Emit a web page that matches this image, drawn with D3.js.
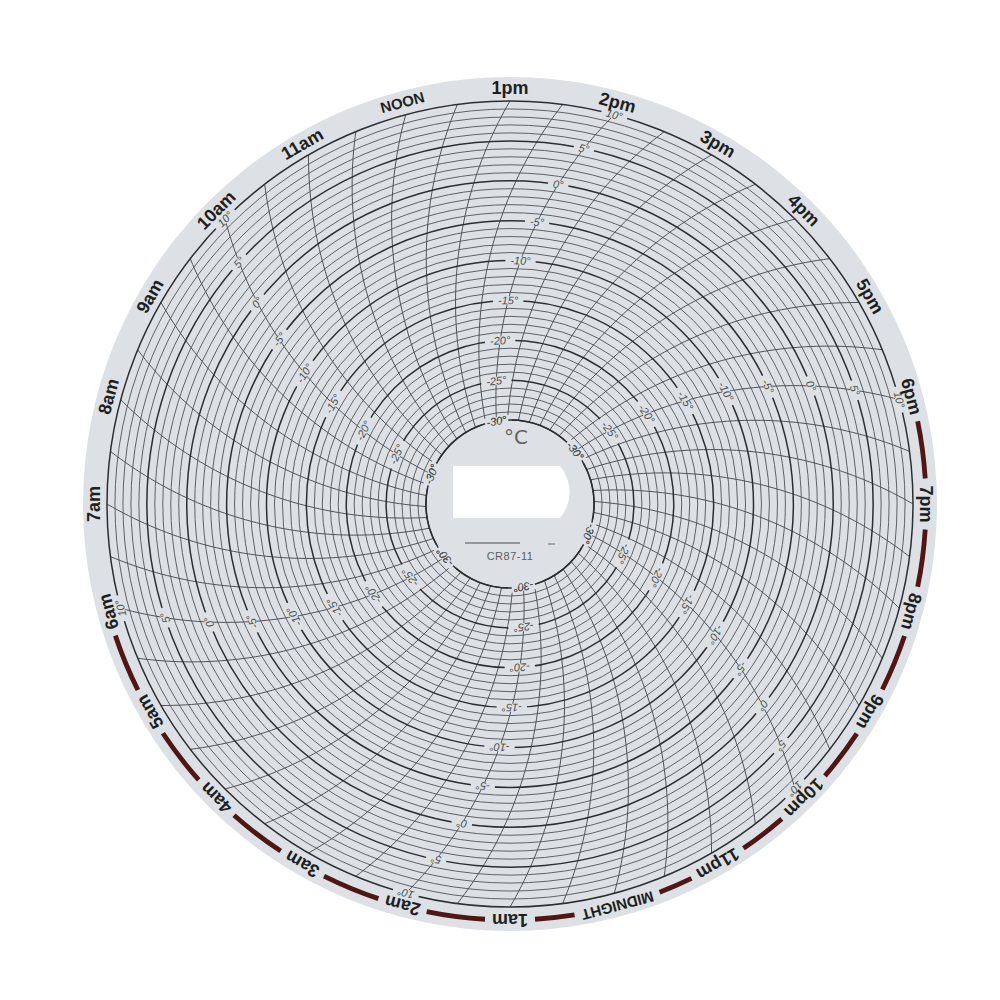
<!DOCTYPE html>
<html><head><meta charset="utf-8">
<script src="https://cdn.jsdelivr.net/npm/d3@7"></script>
<style>html,body{margin:0;background:#fff}</style>
</head><body><svg id="c" width="1000" height="1000"></svg>
<script>
// ---- data ----
const hourLabels = ["1pm","2pm","3pm","4pm","5pm","6pm","7pm","8pm","9pm","10pm","11pm","MIDNIGHT","1am","2am","3am","4am","5am","6am","7am","8am","9am","10am","11am","NOON"];
const nightLabels = ["6pm","7pm","8pm","9pm","10pm","11pm","MIDNIGHT","1am","2am","3am","4am","5am"]; // a dark mark follows each
const tempTicks = [-30,-25,-20,-15,-10,-5,0,5,10];
const tempMin = -30, tempMax = 10, tempMinorStep = 1;
const timeLineStepHours = 0.5;
const scaleLabelHours = ["2pm","6pm","10pm","2am","6am","10am"];
const unitLabel = "°C";
const chartCode = "CR87-11";

// ---- layout ----
const cx = 510, cy = 504;
const R_DISC = 427, R_OUT = 403, R_IN = 84, R_LABEL = 416, R_HUB = 83;
const ARM = 400; // pen arm length (arc radius) for time lines
const paper = "#dde1e5";

const svg = d3.select("#c");
const g = svg.append("g").attr("transform", `translate(${cx},${cy})`);

const rScale = d3.scaleLinear().domain([tempMin, tempMax]).range([R_IN, R_OUT]);
const aScale = d3.scaleLinear().domain([0, 24]).range([0, 2 * Math.PI]);
const deg = a => a * 180 / Math.PI;
const pt = (r, a) => [r * Math.sin(a), -r * Math.cos(a)];

const alpha = r => Math.acos(Math.min(1, r / (2 * ARM)));
const arcAngle = (aOut, r) => aOut - (alpha(r) - alpha(R_OUT));

// disc
g.append("circle").attr("r", R_DISC).attr("fill", paper);

// minor circles
const minorTemps = d3.range(tempMin, tempMax + 0.001, tempMinorStep).filter(t => !tempTicks.includes(t));
g.append("g").selectAll("circle").data(minorTemps).join("circle")
  .attr("r", d => rScale(d)).attr("fill", "none").attr("stroke", "#5f6367").attr("stroke-width", 1);

// time lines
const hours = d3.range(0, 24, timeLineStepHours);
const rSamples = d3.range(R_IN, R_OUT + 0.01, (R_OUT - R_IN) / 60);
const line = d3.lineRadial().radius(d => d[0]).angle(d => d[1]).curve(d3.curveLinear);
g.append("g").selectAll("path").data(hours).join("path")
  .attr("d", h => line(rSamples.map(r => [r, arcAngle(aScale(h), r)])))
  .attr("fill", "none").attr("stroke", "#4f5357").attr("stroke-width", 1);

// major circles
g.append("g").selectAll("circle").data(tempTicks).join("circle")
  .attr("r", d => rScale(d)).attr("fill", "none").attr("stroke", "#2c2f32").attr("stroke-width", 1.5);

// temperature labels along selected time lines
const fmt = t => (t < 0 ? "-" + Math.abs(t) : "" + t) + "°";
const labelStyle = sel => sel.attr("text-anchor", "middle").attr("dy", "0.35em")
  .attr("font-family", "Liberation Sans, Arial, sans-serif").attr("font-size", 11)
  .attr("font-style", "italic").attr("fill", "#4a4d50");
const tl = g.append("g");
scaleLabelHours.forEach(lbl => {
  const aOut = aScale(hourLabels.indexOf(lbl));
  tempTicks.forEach(t => {
    const r = rScale(t);
    const a = arcAngle(aOut, r);
    const [x, y] = pt(r, a);
    const gg = tl.append("g").attr("transform", `translate(${x},${y}) rotate(${deg(a)})`);
    const rect = gg.append("rect").attr("fill", paper);
    const txt = gg.append("text").text(fmt(t)).call(labelStyle);
    const w = txt.node().getComputedTextLength();
    rect.attr("x", -w / 2 - 5).attr("y", -4).attr("width", w + 10).attr("height", 8);
  });
});

// hub
g.append("circle").attr("r", R_HUB).attr("fill", paper);
const innerGaps = scaleLabelHours.map(lbl => arcAngle(aScale(hourLabels.indexOf(lbl)), R_IN));
const gapHalf = 0.14;
const sortedGaps = innerGaps.map(a => ((a % (2 * Math.PI)) + 2 * Math.PI) % (2 * Math.PI)).sort((a, b) => a - b);
const arcGen = d3.arc().innerRadius(R_IN - 0.75).outerRadius(R_IN + 0.75);
sortedGaps.forEach((a, i) => {
  const next = i < sortedGaps.length - 1 ? sortedGaps[i + 1] : sortedGaps[0] + 2 * Math.PI;
  g.append("path").attr("d", arcGen({startAngle: a + gapHalf, endAngle: next - gapHalf})).attr("fill", "#2c2f32");
});
scaleLabelHours.forEach(lbl => {
  const aOut = aScale(hourLabels.indexOf(lbl));
  const t = tempMin, r = rScale(t), a = arcAngle(aOut, r);
  const [x, y] = pt(r, a);
  g.append("text").attr("transform", `translate(${x},${y}) rotate(${deg(a)})`).text(fmt(t)).call(labelStyle);
});

// hub cut-out
const hy = -12;
g.append("path")
  .attr("d", `M-57,${hy - 26} L50,${hy - 26} A40,40 0 0 1 50,${hy + 26} L-57,${hy + 26} Z`)
  .attr("fill", "#ffffff");
g.append("text").attr("x", 6).attr("y", hy - 48).text(unitLabel)
  .attr("text-anchor", "middle").attr("font-family", "DejaVu Sans, sans-serif").attr("font-size", 20)
  .attr("fill", "#5f6367");
g.append("line").attr("x1", -45).attr("x2", 10).attr("y1", hy + 51).attr("y2", hy + 51)
  .attr("stroke", "#7c8084").attr("stroke-width", 1.6);
g.append("line").attr("x1", 38).attr("x2", 45).attr("y1", hy + 52).attr("y2", hy + 52)
  .attr("stroke", "#7c8084").attr("stroke-width", 1.2);
g.append("text").attr("x", 0).attr("y", hy + 68).text(chartCode)
  .attr("text-anchor", "middle").attr("font-family", "Liberation Sans, Arial, sans-serif").attr("font-size", 11)
  .attr("fill", "#5a5d60").attr("letter-spacing", 0.5);

// hour labels
const hl = g.append("g");
const halfWidths = {};
hourLabels.forEach((lbl, i) => {
  const a = aScale(i);
  const [x, y] = pt(R_LABEL, a);
  const big = !(lbl === "NOON" || lbl === "MIDNIGHT");
  const txt = hl.append("text").attr("transform", `translate(${x},${y}) rotate(${deg(a)})`).text(lbl)
    .attr("text-anchor", "middle").attr("dy", "0.36em")
    .attr("font-family", "Liberation Sans, Arial, sans-serif").attr("font-weight", "bold")
    .attr("font-size", big ? 18 : 15).attr("fill", "#1e1f21");
  halfWidths[lbl] = txt.node().getComputedTextLength() / 2 / R_LABEL;
});

// night marks
const markGap = 7 / R_LABEL;
const markArc = d3.arc().innerRadius(R_LABEL - 2.4).outerRadius(R_LABEL + 2.4);
nightLabels.forEach(lbl => {
  const i = hourLabels.indexOf(lbl);
  const nextLbl = hourLabels[(i + 1) % 24];
  const a0 = aScale(i) + halfWidths[lbl] + markGap;
  const a1 = aScale(i + 1) - halfWidths[nextLbl] - markGap;
  g.append("path").attr("d", markArc({startAngle: a0, endAngle: a1})).attr("fill", "#4f1616");
});
</script>
</body></html>
